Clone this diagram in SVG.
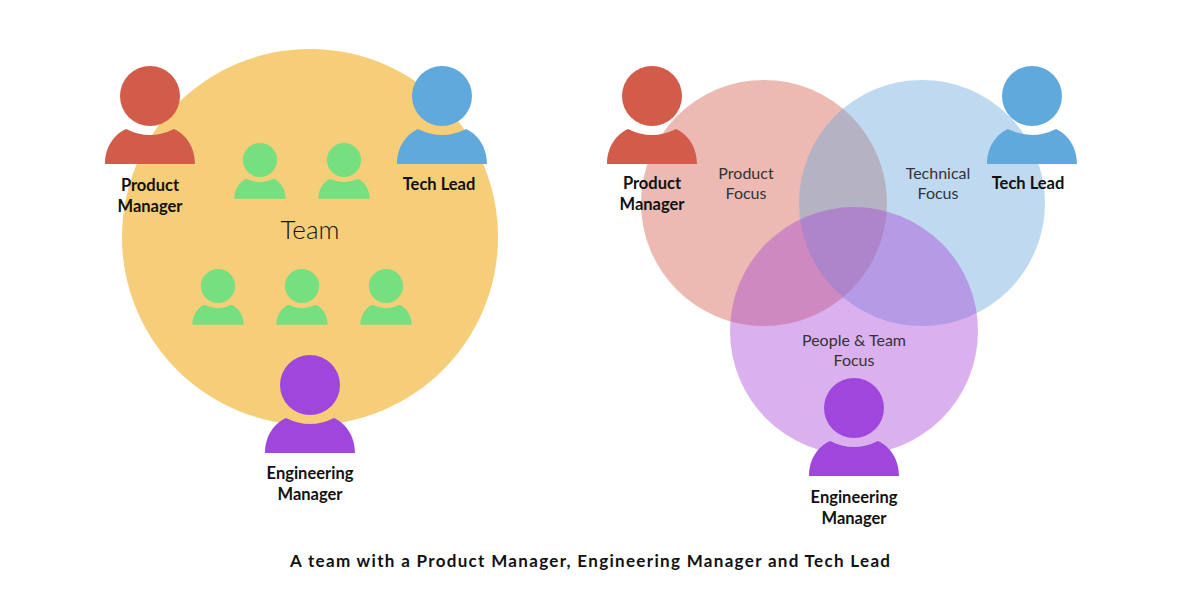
<svg xmlns="http://www.w3.org/2000/svg" width="1200" height="610" viewBox="0 0 1200 610">
<style>
.lbl{font-family:Lato,"Liberation Sans",sans-serif;font-weight:bold;font-size:16.5px;fill:#111;text-anchor:middle}
.foc{font-family:Lato,"Liberation Sans",sans-serif;font-size:16px;fill:#333;text-anchor:middle}
.v{opacity:0.42}
</style>
<defs>
<g id="person">
<path d="M-45,68 C-45,50 -35,38 -24,33 Q0,45 24,33 C35,38 45,50 45,68 Z"/>
<circle cx="0" cy="0" r="30"/>
</g>
</defs>
<rect width="1200" height="610" fill="#fff"/>
<g id="team-circle"><circle cx="310" cy="237" r="188" fill="#f6cd79"/><text x="310" y="239" font-family="Lato,'Liberation Sans',sans-serif" font-weight="300" font-size="26" fill="#111" text-anchor="middle">Team</text></g>
<g id="members" fill="#76df80">
<use href="#person" transform="translate(260,160) scale(0.57)"/>
<use href="#person" transform="translate(344,160) scale(0.57)"/>
<use href="#person" transform="translate(218,286) scale(0.57)"/>
<use href="#person" transform="translate(302,286) scale(0.57)"/>
<use href="#person" transform="translate(386,286) scale(0.57)"/>
</g>
<g id="pm-left" fill="#d25b49"><use href="#person" transform="translate(150,96)"/><text class="lbl" x="150" y="191">Product</text><text class="lbl" x="150" y="212">Manager</text></g>
<g id="tl-left" fill="#5fa9dc"><use href="#person" transform="translate(442,96)"/><text class="lbl" x="439" y="190">Tech Lead</text></g>
<g id="em-left" fill="#9f47dc"><use href="#person" transform="translate(310,385)"/><text class="lbl" x="310" y="479">Engineering</text><text class="lbl" x="310" y="500">Manager</text></g>
<g id="venn">
<circle class="v" cx="764" cy="203" r="123" fill="#d15a48"/>
<circle class="v" cx="922" cy="203" r="123" fill="#66a7dc"/>
<circle class="v" cx="854" cy="331" r="124" fill="#a744d7"/>
<text class="foc" x="746" y="179">Product</text><text class="foc" x="746" y="199">Focus</text>
<text class="foc" x="938" y="179">Technical</text><text class="foc" x="938" y="199">Focus</text>
<text class="foc" x="854" y="346">People &amp; Team</text><text class="foc" x="854" y="366">Focus</text>
</g>
<g id="pm-right" fill="#d25b49"><use href="#person" transform="translate(652,96)"/><text class="lbl" x="652" y="189">Product</text><text class="lbl" x="652" y="210">Manager</text></g>
<g id="tl-right" fill="#5fa9dc"><use href="#person" transform="translate(1032,96)"/><text class="lbl" x="1028" y="189">Tech Lead</text></g>
<g id="em-right" fill="#9f47dc"><use href="#person" transform="translate(854,408)"/><text class="lbl" x="854" y="503">Engineering</text><text class="lbl" x="854" y="524">Manager</text></g>
<g id="connectors"/>
<text x="590" y="567" font-family="Lato,'Liberation Sans',sans-serif" font-weight="bold" font-size="17" fill="#111" text-anchor="middle" textLength="600" lengthAdjust="spacing">A team with a Product Manager, Engineering Manager and Tech Lead</text>
</svg>
